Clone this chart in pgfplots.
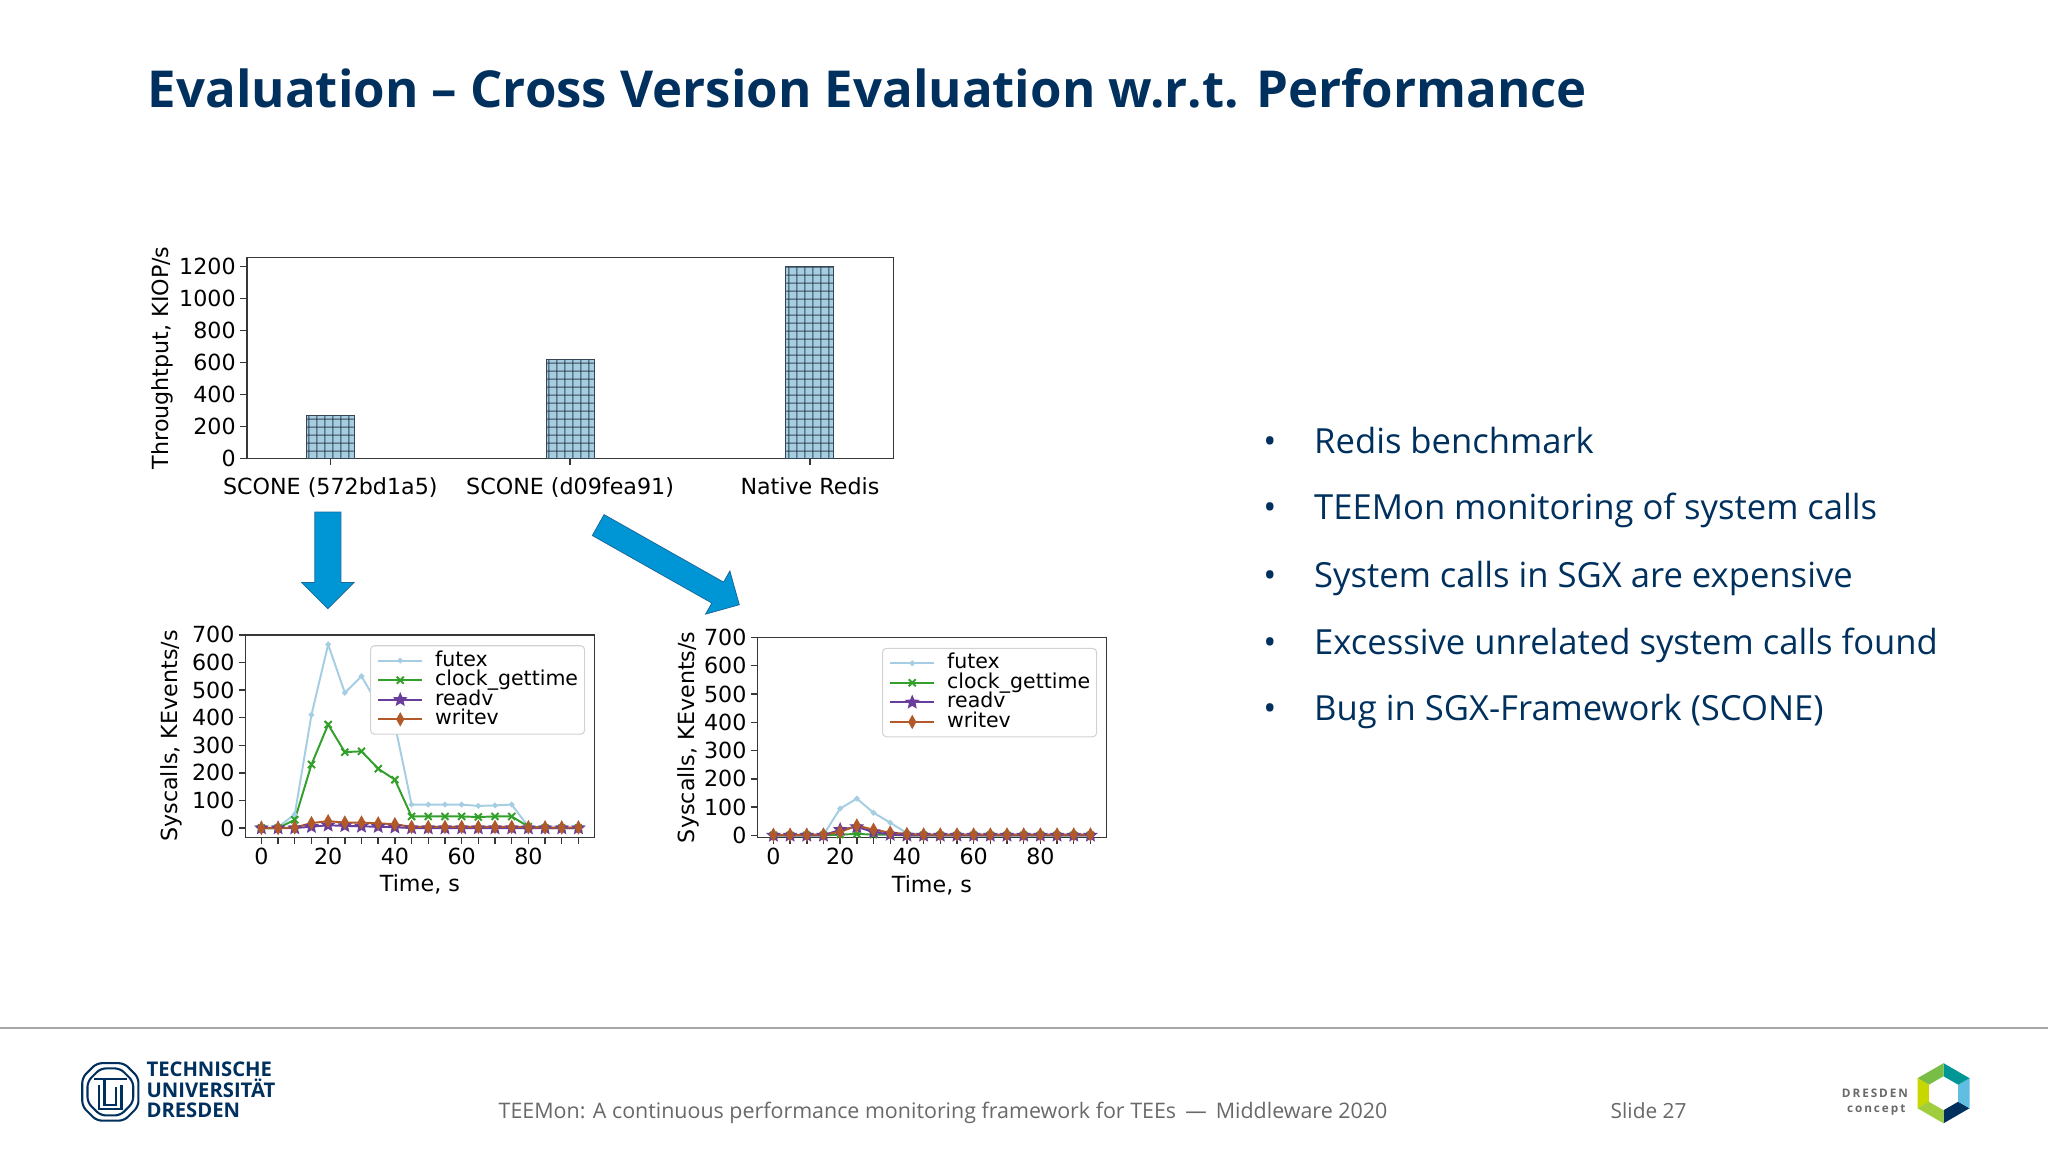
\documentclass[border=0pt]{standalone}
\usepackage{fontspec}
\setmainfont{Open Sans}
\newfontfamily\chartfont{DejaVu Sans}
\usepackage{pgfplots}
\pgfplotsset{compat=1.18}
\usetikzlibrary{patterns.meta}

\definecolor{tunavy}{RGB}{0,48,93}
\definecolor{footgray}{RGB}{105,105,105}
\definecolor{axisgray}{RGB}{55,55,55}
\definecolor{legendgray}{RGB}{210,210,210}
\definecolor{barblue}{RGB}{166,206,227}
\definecolor{bargrid}{RGB}{55,70,85}
\definecolor{arrowblue}{RGB}{0,150,214}
\definecolor{arrowedge}{RGB}{25,105,155}
\definecolor{cfutex}{RGB}{166,206,227}
\definecolor{cclock}{RGB}{51,160,44}
\definecolor{creadv}{RGB}{106,61,154}
\definecolor{cwritev}{RGB}{177,89,40}

% filled five point star, like matplotlib's '*'
\pgfdeclareplotmark{fstar}{%
  \pgfpathmoveto{\pgfpointpolar{90}{\pgfplotmarksize}}%
  \pgfpathlineto{\pgfpointpolar{126}{0.45\pgfplotmarksize}}%
  \pgfpathlineto{\pgfpointpolar{162}{\pgfplotmarksize}}%
  \pgfpathlineto{\pgfpointpolar{198}{0.45\pgfplotmarksize}}%
  \pgfpathlineto{\pgfpointpolar{234}{\pgfplotmarksize}}%
  \pgfpathlineto{\pgfpointpolar{270}{0.45\pgfplotmarksize}}%
  \pgfpathlineto{\pgfpointpolar{306}{\pgfplotmarksize}}%
  \pgfpathlineto{\pgfpointpolar{342}{0.45\pgfplotmarksize}}%
  \pgfpathlineto{\pgfpointpolar{18}{\pgfplotmarksize}}%
  \pgfpathlineto{\pgfpointpolar{54}{0.45\pgfplotmarksize}}%
  \pgfpathclose
  \pgfusepathqfillstroke}

\pgfplotsset{
  slideaxis/.style={
    scale only axis,
    axis line style={draw=axisgray, line width=1.1pt},
    tick style={draw=axisgray, line width=1.1pt},
    major tick length=5pt,
    minor tick length=5pt,
    tick align=outside,
    tick pos=left,
    scaled ticks=false,
    /pgf/number format/1000 sep={},
    /pgf/number format/assume math mode=true,
    ticklabel style={font=\chartfont\fontsize{17}{20}\selectfont},
    label style={font=\chartfont\fontsize{17}{20}\selectfont},
  },
  lineaxis/.style={
    slideaxis,
    width=267pt,
    xmin=-4.75, xmax=99.75, ymax=700,
    xtick={0,20,...,80},
    minor xtick={5,10,15,25,30,35,45,50,55,65,70,75,85,90,95},
    ytick={0,100,...,700},
    xlabel={Time, s},
    ylabel={Syscalls, KEvents/s},
    legend cell align=left,
    legend image code/.code={\draw[sharp corners, mark repeat=2, mark phase=2, ##1]
      plot coordinates {(0pt,0pt) (17pt,0pt) (34pt,0pt)};},
    legend style={at={(1,1)}, anchor=north east, xshift=-7pt, yshift=-8pt,
      draw=legendgray, line width=0.8pt, rounded corners=3pt, fill=white,
      font=\chartfont\fontsize{15.7}{16}\selectfont, inner sep=5pt,
      row sep=2.3pt, column sep=9pt,
      nodes={inner sep=0pt, text height=10.5pt, text depth=2.2pt, anchor=west}},
  },
  pfutex/.style={color=cfutex, line width=1.5pt, mark=*, mark size=1.3pt},
  pclock/.style={color=cclock, line width=1.5pt, mark=x, mark size=3.8pt},
  preadv/.style={color=creadv, line width=1.5pt, mark=fstar, mark size=4pt},
  pwritev/.style={color=cwritev, line width=1.5pt, mark=diamond*, mark size=4pt,
    mark options={xscale=0.75}},
}

\begin{document}
\begin{tikzpicture}
\path[use as bounding box, fill=white] (0pt,0pt) rectangle (1568pt,-882pt);

% ---- throughput bars ----
\begin{axis}[slideaxis,
  at={(189pt,-351pt)}, anchor=south west,
  width=495pt, height=154pt,
  xmin=-0.348, xmax=2.348, ymin=0, ymax=1257,
  xtick={0,1,2},
  xticklabels={SCONE (572bd1a5), SCONE (d09fea91), Native Redis},
  xticklabel style={yshift=-6pt},
  ytick={0,200,...,1200},
  ylabel={Throughtput, KIOP/s},
  ylabel style={at={(axis description cs:-0.131,0.5)}, anchor=center},
]
\addplot[ybar, bar width=0.2, fill=barblue, draw=bargrid, line width=0.8pt,
  postaction={pattern={Hatch[distance=6.4pt, line width=0.7pt]}, pattern color=bargrid}]
  coordinates {(0,270) (1,620) (2,1200)};
\end{axis}

% ---- syscalls, SCONE 572bd1a5 ----
\begin{axis}[lineaxis,
  at={(188pt,-641pt)}, anchor=south west,
  height=155pt, ymin=-33.25,
  ylabel style={at={(axis description cs:-0.213,0.5)}, anchor=center},
  xlabel style={at={(axis description cs:0.5,-0.232)}, anchor=center},
]
\addplot[pfutex] table {
0 0
5 3
10 50
15 410
20 665
25 490
30 550
35 445
40 375
45 85
50 85
55 85
60 85
65 80
70 82
75 85
80 5
85 2
90 2
95 2
};
\addlegendentry{futex}
\addplot[pclock] table {
0 0
5 0
10 30
15 230
20 375
25 275
30 278
35 215
40 175
45 42
50 42
55 42
60 42
65 40
70 42
75 42
80 5
85 0
90 0
95 0
};
\addlegendentry{clock\_gettime}
\addplot[preadv] table {
0 0
5 0
10 0
15 5
20 10
25 8
30 6
35 5
40 3
45 0
50 0
55 0
60 0
65 0
70 0
75 0
80 0
85 0
90 0
95 0
};
\addlegendentry{readv}
\addplot[pwritev] table {
0 0
5 0
10 2
15 18
20 25
25 20
30 20
35 17
40 14
45 4
50 4
55 4
60 4
65 4
70 4
75 4
80 3
85 2
90 2
95 2
};
\addlegendentry{writev}
\end{axis}

% ---- syscalls, SCONE d09fea91 ----
\begin{axis}[lineaxis,
  at={(580pt,-641pt)}, anchor=south west,
  height=153pt, ymin=-6.5,
  ylabel style={at={(axis description cs:-0.1985,0.5)}, anchor=center},
  xlabel style={at={(axis description cs:0.5,-0.242)}, anchor=center},
]
\addplot[pfutex] table {
0 0
5 0
10 0
15 2
20 95
25 130
30 80
35 45
40 8
45 3
50 3
55 3
60 3
65 3
70 3
75 3
80 3
85 3
90 3
95 3
};
\addlegendentry{futex}
\addplot[pclock] table {
0 0
5 0
10 0
15 0
20 3
25 5
30 3
35 2
40 0
45 0
50 0
55 0
60 0
65 0
70 0
75 0
80 0
85 0
90 0
95 0
};
\addlegendentry{clock\_gettime}
\addplot[preadv] table {
0 0
5 0
10 0
15 0
20 20
25 30
30 12
35 3
40 0
45 0
50 0
55 0
60 0
65 0
70 0
75 0
80 0
85 0
90 0
95 0
};
\addlegendentry{readv}
\addplot[pwritev] table {
0 2
5 2
10 2
15 3
20 12
25 35
30 20
35 10
40 5
45 3
50 3
55 3
60 3
65 3
70 3
75 3
80 3
85 3
90 3
95 3
};
\addlegendentry{writev}
\end{axis}

\begin{scope}[x=1pt, y=-1pt]
% title
\node[anchor=base west, inner sep=0pt, text=tunavy,
  font=\fontsize{39}{46}\selectfont\bfseries] at (113,82)
  {Evaluation – Cross Version Evaluation w.r.t. Performance};

% arrows
\filldraw[fill=arrowblue, draw=arrowedge, line width=0.6pt]
  (241,392) -- (261,392) -- (261,446) -- (271,446) -- (251,466)
  -- (231,446) -- (241,446) -- cycle;
\filldraw[fill=arrowblue, draw=arrowedge, line width=0.6pt]
  (453.5,410) -- (462.5,394) -- (554,445.7) -- (558.8,437.2) -- (566,463)
  -- (540.2,470.2) -- (545,461.7) -- cycle;

% bullets
\foreach \yy/\txt in {347/Redis benchmark,
                      398/TEEMon monitoring of system calls,
                      450/System calls in SGX are expensive,
                      501/Excessive unrelated system calls found,
                      552/Bug in SGX-Framework (SCONE)}{
  \node[anchor=base west, inner sep=0pt, text=tunavy,
    font=\fontsize{26.5}{30}\selectfont] at (967,\yy) {•};
  \node[anchor=base west, inner sep=0pt, text=tunavy,
    font=\fontsize{26.5}{30}\selectfont] at (1006,\yy) {\txt};
}

% footer
\draw[color=black!35, line width=1.2pt] (0,787) -- (1568,787);
\node[anchor=base, inner sep=0pt, text=footgray,
  font=\fontsize{16.4}{19}\selectfont] at (722,856)
  {TEEMon: A continuous performance monitoring framework for TEEs \,—\, Middleware 2020};
\node[anchor=base west, inner sep=0pt, text=footgray,
  font=\fontsize{16}{19}\selectfont] at (1233,856) {Slide 27};

% TU Dresden logo
\begin{scope}[tunavy, line width=1.6pt, rounded corners=4pt]
  \draw (74,814) -- (95,814) -- (106,825) -- (106,847) -- (95,858)
    -- (74,858) -- (63,847) -- (63,825) -- cycle;
  \draw (77,818) -- (92,818) -- (102,828) -- (102,844) -- (92,854)
    -- (77,854) -- (67,844) -- (67,828) -- cycle;
\end{scope}
\draw[tunavy, line width=1.6pt] (72,826) -- (97,826);
\draw[tunavy, line width=1.6pt] (80,826) -- (80,846) -- (89,846) -- (89,832);
\draw[tunavy, line width=1.6pt] (76,831) -- (76,849) -- (93,849) -- (93,831);
\node[anchor=north west, inner sep=0pt, text=tunavy, align=left,
  font=\fontsize{15.5}{15.6}\selectfont\bfseries] at (112,813)
  {TECHNISCHE\\UNIVERSITÄT\\DRESDEN};

% DRESDEN concept logo
\node[anchor=base east, inner sep=0pt, text=footgray,
  font=\fontsize{9}{10}\selectfont\bfseries] at (1461,840) {D\,R\,E\,S\,D\,E\,N};
\node[anchor=base east, inner sep=0pt, text=footgray,
  font=\fontsize{9}{10}\selectfont\bfseries] at (1459,852) {c\,o\,n\,c\,e\,p\,t};
\begin{scope}[shift={(1488,837)}]
  \fill[tunavy] (90:23) -- (30:23) -- (30:13) -- (90:13) -- cycle;
  \fill[color={rgb,255:red,95;green,190;blue,225}] (30:23) -- (-30:23) -- (-30:13) -- (30:13) -- cycle;
  \fill[color={rgb,255:red,0;green,150;blue,150}] (-30:23) -- (-90:23) -- (-90:13) -- (-30:13) -- cycle;
  \fill[color={rgb,255:red,120;green,190;blue,70}] (-90:23) -- (-150:23) -- (-150:13) -- (-90:13) -- cycle;
  \fill[color={rgb,255:red,200;green,215;blue,0}] (-150:23) -- (150:23) -- (150:13) -- (-150:13) -- cycle;
  \fill[color={rgb,255:red,160;green,205;blue,60}] (150:23) -- (90:23) -- (90:13) -- (150:13) -- cycle;
\end{scope}
\end{scope}
\end{tikzpicture}
\end{document}
